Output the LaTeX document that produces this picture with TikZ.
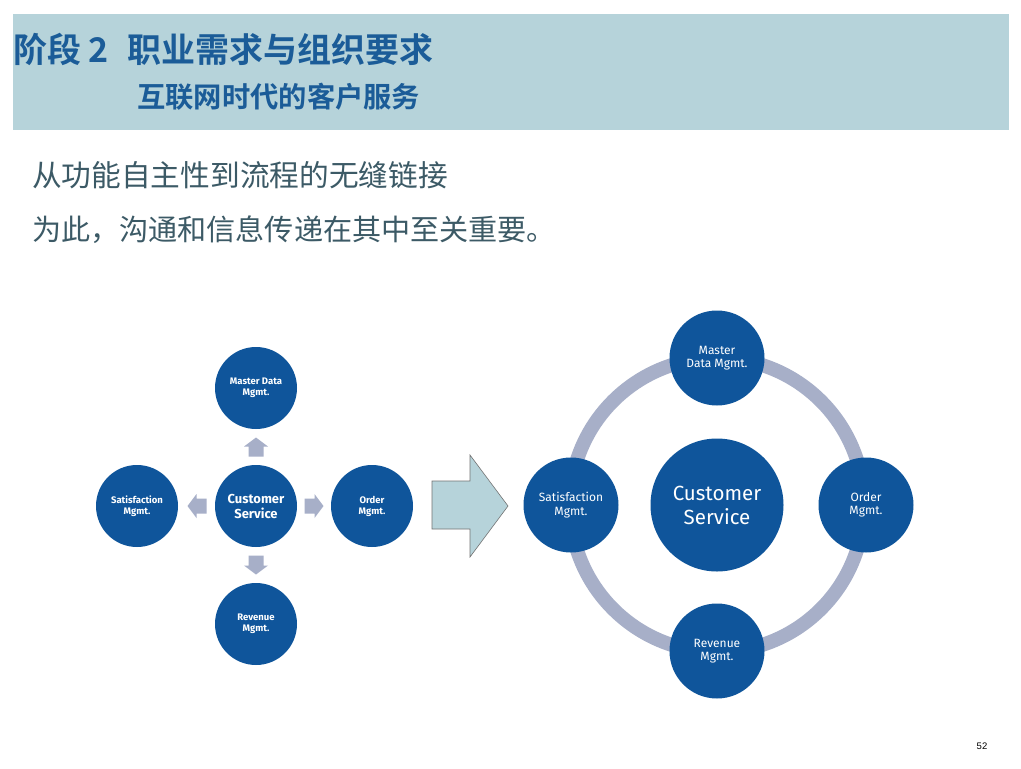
\documentclass[tikz,border=0pt]{standalone}
\usepackage{fontspec}
\setmainfont{Liberation Sans}
\newfontfamily\cjk{Noto Sans CJK SC}
\newfontfamily\cjkb{Noto Sans CJK SC Bold}
\newfontfamily\lbl{Fira Sans}
\definecolor{band}{HTML}{B6D3DA}
\definecolor{ttl}{HTML}{1B5C98}
\definecolor{circ}{HTML}{0F559B}
\definecolor{ring}{HTML}{A7AFC8}
\definecolor{body}{HTML}{3C5A66}
\tikzset{
  bub/.style={circle,fill=circ,text=white,inner sep=0pt,align=center},
  smallbub/.style={bub,minimum size=82pt,font=\lbl\bfseries\fontsize{9.5}{11}\selectfont},
  smallcenter/.style={bub,minimum size=82pt,font=\lbl\bfseries\fontsize{13}{15}\selectfont},
  bigbub/.style={bub,minimum size=95pt,font=\lbl\fontsize{12}{13.5}\selectfont},
  bodytxt/.style={anchor=west,text=body,inner sep=0pt},
  blockarr/.pic={\fill[ring] (-9.5,-7.5) -- (0.5,-7.5) -- (0.5,-12) -- (9.5,0) -- (0.5,12) -- (0.5,7.5) -- (-9.5,7.5) -- cycle;}
}
\begin{document}
\begin{tikzpicture}[x=1pt,y=-1pt]
\useasboundingbox (0,0) rectangle (1021,769);
\fill[white] (0,0) rectangle (1021,769);
% header
\fill[band] (13,14) rectangle (1009,130);
\node[anchor=west,text=ttl,inner sep=0pt,font=\cjkb\fontsize{34}{37}\selectfont] (t1) at (13,49) {阶段 2\hspace{0.55em}职业需求与组织要求};
\node[anchor=west,text=ttl,inner sep=0pt,font=\cjkb\fontsize{28.3}{31}\selectfont] (t2) at (137,97) {互联网时代的客户服务};
% body text
\node[bodytxt,font=\cjk\fontsize{29.7}{33}\selectfont] (b1) at (32,175) {从功能自主性到流程的无缝链接};
\node[bodytxt,font=\cjk\fontsize{29.1}{33}\selectfont] (b2) at (32,230) {为此，沟通和信息传递在其中至关重要。};
% left diagram
\node[smallcenter] (lcs) at (256,506) {Customer\\Service};
\node[smallbub] (lmd) at (256,388) {Master Data\\Mgmt.};
\node[smallbub] (lsa) at (137,506) {Satisfaction\\Mgmt.};
\node[smallbub] (lor) at (372,506) {Order\\Mgmt.};
\node[smallbub] (lre) at (256,624) {Revenue\\Mgmt.};
\pic[rotate=90] at (256,447) {blockarr};
\pic[rotate=180] at (197,506) {blockarr};
\pic at (314,506) {blockarr};
\pic[rotate=-90] at (256,565) {blockarr};
% big arrow
\draw[fill=band,draw=black!55,line width=0.6pt] (432,481) -- (470,481) -- (470,455) -- (508,506) -- (470,557) -- (470,529) -- (432,529) -- cycle;
% right diagram
\node[circle,draw=ring,line width=14pt,minimum size=294pt,inner sep=0pt] (ring) at (717,505) {};
\node[bub,minimum size=133pt,font=\lbl\fontsize{20.5}{24}\selectfont] (rcs) at (717,505) {Customer\\Service};
\node[bigbub] (rmd) at (717,358) {Master\\Data Mgmt.};
\node[bigbub] (ror) at (866,505) {Order\\Mgmt.};
\node[bigbub] (rsa) at (571,505) {Satisfaction\\Mgmt.};
\node[bigbub] (rre) at (717,651) {Revenue\\Mgmt.};
% page number
\node[font=\fontsize{9.5}{11}\selectfont,inner sep=0pt] (pg) at (982,746) {52};
\end{tikzpicture}
\end{document}
